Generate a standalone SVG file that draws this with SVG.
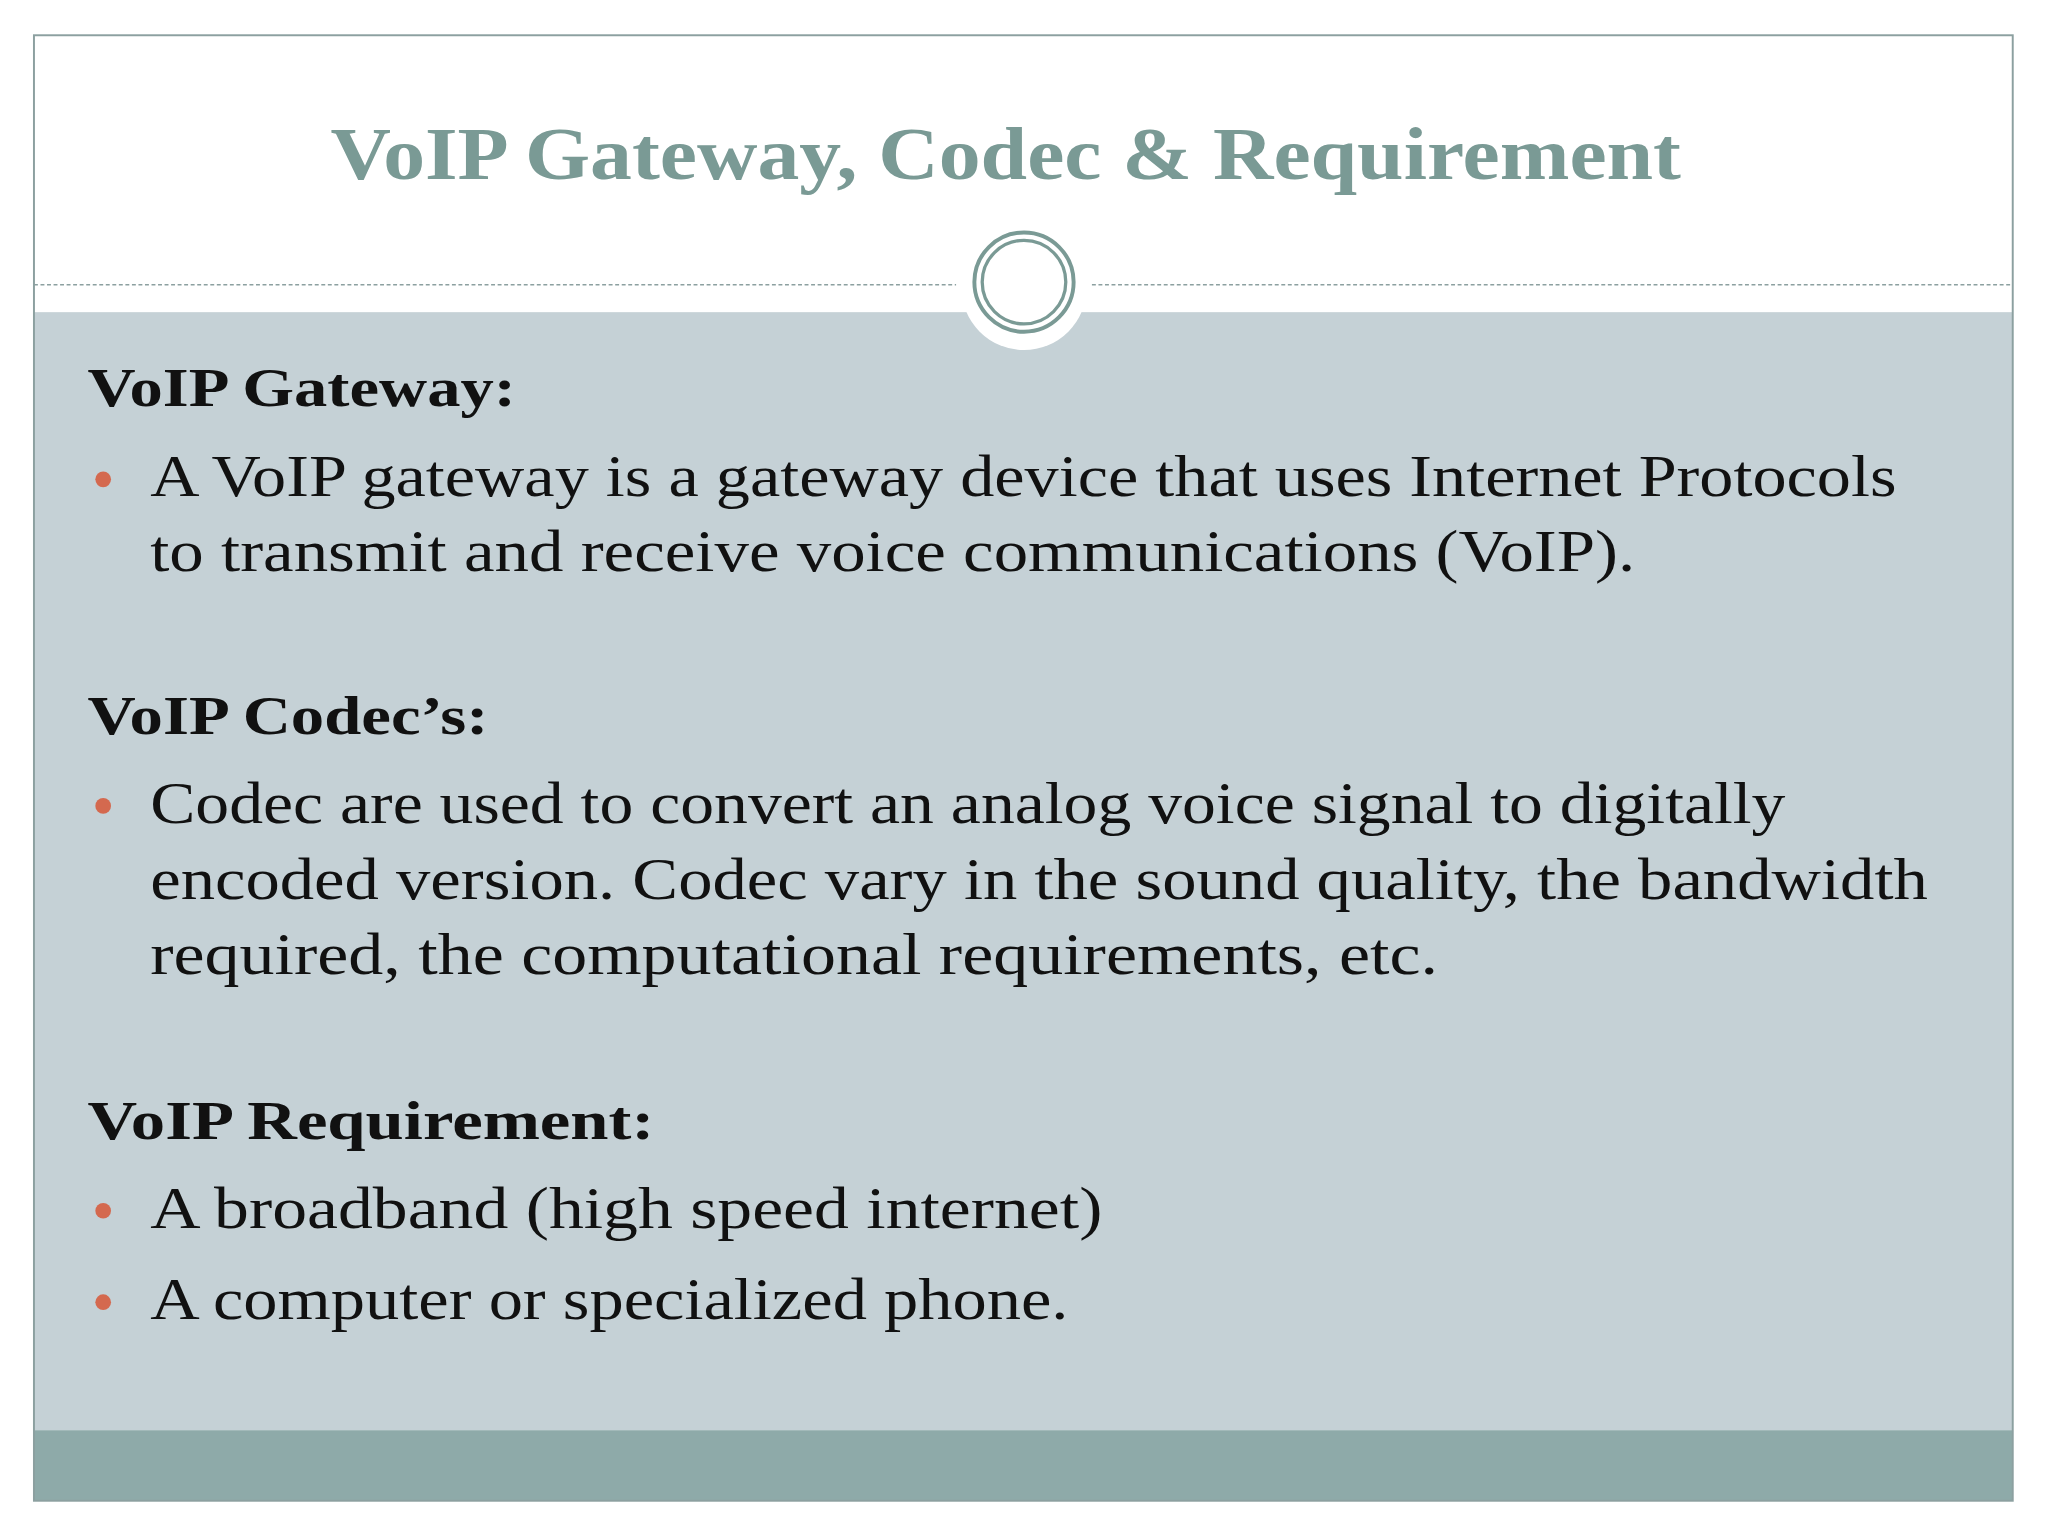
<svg xmlns="http://www.w3.org/2000/svg" width="2048" height="1536" viewBox="0 0 2048 1536">
<style>
.h{font-family:"Liberation Serif",serif;font-weight:bold;font-size:42px;fill:#111}
.t{font-family:"Liberation Serif",serif;font-size:45px;fill:#111}
.b{fill:#d4694f}
</style>
<rect width="2048" height="1536" fill="#fff"/>
<g transform="scale(1.30612)">
<g id="frame">
<rect x="26" y="239" width="1515" height="856" fill="#c5d1d6"/>
<rect x="26" y="1095" width="1515" height="54" fill="#8eaaa9"/>
<rect x="26" y="27" width="1515" height="1122" fill="none" stroke="#8ca0a0" stroke-width="1.5"/>
<line x1="26" y1="218" x2="732" y2="218" stroke="#8ca0a0" stroke-width="1.2" stroke-dasharray="3,2"/>
<line x1="836" y1="218" x2="1541" y2="218" stroke="#8ca0a0" stroke-width="1.2" stroke-dasharray="3,2"/>
<circle cx="784" cy="220" r="48" fill="#fff"/>
<circle cx="784" cy="216" r="38" fill="#fff" stroke="#7a9a95" stroke-width="3"/>
<circle cx="784" cy="216" r="32" fill="none" stroke="#7a9a95" stroke-width="2.5"/>
</g>
<g id="title"><text x="770" y="137" text-anchor="middle" font-family="Liberation Serif,serif" font-weight="bold" font-size="56" fill="#7a9a95" textLength="1034" lengthAdjust="spacingAndGlyphs">VoIP Gateway, Codec &amp; Requirement</text></g>
<g id="body">
<text class="h" x="67" y="311" textLength="328" lengthAdjust="spacingAndGlyphs">VoIP Gateway:</text>
<circle class="b" cx="79" cy="367" r="6"/>
<text class="t" x="115" y="380" textLength="1337" lengthAdjust="spacingAndGlyphs">A VoIP gateway is a gateway device that uses Internet Protocols</text>
<text class="t" x="115" y="437" textLength="1137" lengthAdjust="spacingAndGlyphs">to transmit and receive voice communications (VoIP).</text>
<text class="h" x="67" y="562" textLength="307" lengthAdjust="spacingAndGlyphs">VoIP Codec’s:</text>
<circle class="b" cx="79" cy="617" r="6"/>
<text class="t" x="115" y="630" textLength="1252" lengthAdjust="spacingAndGlyphs">Codec are used to convert an analog voice signal to digitally</text>
<text class="t" x="115" y="688" textLength="1361" lengthAdjust="spacingAndGlyphs">encoded version. Codec vary in the sound quality, the bandwidth</text>
<text class="t" x="115" y="746" textLength="986" lengthAdjust="spacingAndGlyphs">required, the computational requirements, etc.</text>
<text class="h" x="67" y="872" textLength="434" lengthAdjust="spacingAndGlyphs">VoIP Requirement:</text>
<circle class="b" cx="79" cy="927" r="6"/>
<text class="t" x="115" y="940" textLength="729" lengthAdjust="spacingAndGlyphs">A broadband (high speed internet)</text>
<circle class="b" cx="79" cy="997" r="6"/>
<text class="t" x="115" y="1010" textLength="703" lengthAdjust="spacingAndGlyphs">A computer or specialized phone.</text>
</g>
</g>
</svg>
